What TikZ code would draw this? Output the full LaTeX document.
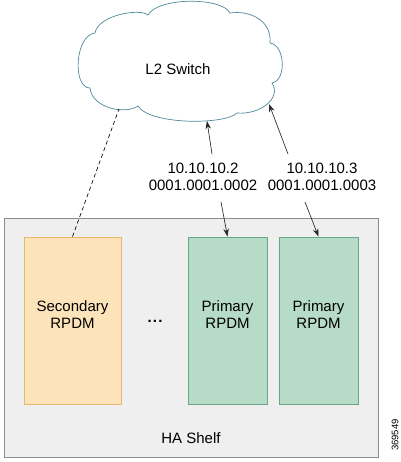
\documentclass[tikz,border=0pt]{standalone}
\usepackage{fontspec}
\setmainfont{Liberation Sans}
\usetikzlibrary{arrows.meta}
\definecolor{shelfbg}{HTML}{EFEFEF}
\definecolor{shelfbd}{HTML}{8C8C8C}
\definecolor{secbg}{HTML}{FDE3BA}
\definecolor{secbd}{HTML}{E9B86A}
\definecolor{pribg}{HTML}{B6DBC6}
\definecolor{pribd}{HTML}{6AA686}
\definecolor{cloudbd}{HTML}{4E8A9C}
\tikzset{
  lbl/.style={font=\fontsize{15}{17}\selectfont, align=center, inner sep=0pt},
  secbox/.style={draw=secbd, fill=secbg, line width=0.8pt, minimum width=97pt, minimum height=167pt, inner sep=0pt},
  pribox/.style={draw=pribd, fill=pribg, line width=0.8pt, minimum width=79pt, minimum height=167pt, inner sep=0pt},
  arr/.style={-{Stealth[length=8pt,width=5.5pt]}, line width=0.65pt, black!85},
}
\begin{document}
\begin{tikzpicture}[x=1pt,y=-1pt]
\useasboundingbox (0,0) rectangle (400,462);
% shelf
\node[draw=shelfbd, fill=shelfbg, line width=0.8pt, minimum width=374pt, minimum height=239pt, inner sep=0pt] (shelf) at (191,337.5) {};
\node[lbl] (shelflbl) at (191,438) {HA Shelf};
% boxes
\node[secbox] (sec) at (72.5,320.5) {};
\node[pribox] (p1) at (227.5,320.5) {};
\node[pribox] (p2) at (318.5,320.5) {};
\node[lbl] (seclbl) at (72.5,314.5) {Secondary\\RPDM};
\node[lbl] (p1lbl) at (227.5,314.5) {Primary\\RPDM};
\node[lbl] (p2lbl) at (318.5,314.5) {Primary\\RPDM};
\node[lbl, anchor=base] (dots) at (155,322) {\textbf{.\kern1.2pt.\kern1.2pt.}};
% cloud
\draw[cloudbd, fill=white, line width=0.7pt]
  (148,15) .. controls (158,-3) and (222,-3) .. (230,13)
  .. controls (252,10) and (272,22) .. (270,43)
  .. controls (285,45) and (287,80) .. (272,83)
  .. controls (282,98) and (260,115) .. (237,113)
  .. controls (225,125) and (150,125) .. (138,106)
  .. controls (125,115) and (92,108) .. (90,88)
  .. controls (72,88) and (75,35) .. (95,33)
  .. controls (98,15) and (140,8) .. cycle;
\node[lbl] (cl) at (178,69) {L2 Switch};
% labels
\node[lbl] (lab1) at (203,177) {10.10.10.2\\0001.0001.0002};
\node[lbl] (lab2) at (322,177) {10.10.10.3\\0001.0001.0003};
% connector endpoints
\coordinate (a1s) at (212,154);
\coordinate (a1e) at (207,121);
\coordinate (a2s) at (288,154);
\coordinate (a2e) at (269,104);
\coordinate (b1s) at (221,202);
\coordinate (b2s) at (305,202);
\coordinate (dse) at (119,109);
\draw[arr] (a1s) -- (a1e);
\draw[arr] (a2s) -- (a2e);
\draw[arr] (b1s) -- (p1.north);
\draw[arr] (b2s) -- (p2.north);
\draw[line width=0.65pt, dash pattern=on 4pt off 3pt] (sec.north) -- (dse);
% id
\node[rotate=90, font=\fontsize{9.5}{10}\selectfont, inner sep=0pt] (id) at (395,435) {369549};
\end{tikzpicture}
\end{document}
